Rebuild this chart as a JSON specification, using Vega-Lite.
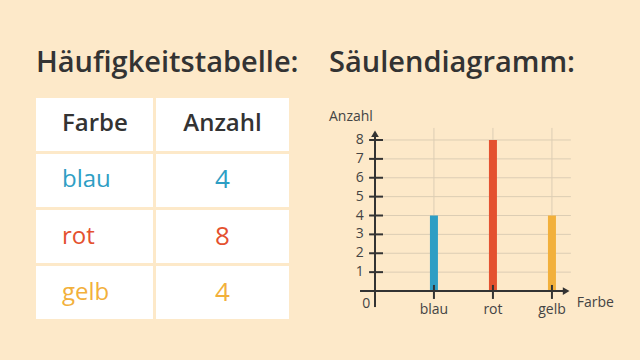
{
  "$schema": "https://vega.github.io/schema/vega-lite/v6.json",
  "autosize": {"type": "pad"},
  "padding": {"left": 36, "top": 49, "right": 24, "bottom": 41},
  "background": "#fde9c9",
  "config": {"view": {"stroke": null}, "font": "Open Sans"},
  "datasets": {
    "werte": [
      {"Farbe": "blau", "Anzahl": 4},
      {"Farbe": "rot", "Anzahl": 8},
      {"Farbe": "gelb", "Anzahl": 4}
    ],
    "stufen": [{"Stufe": 1}, {"Stufe": 2}, {"Stufe": 3}, {"Stufe": 4}, {"Stufe": 5}, {"Stufe": 6}, {"Stufe": 7}, {"Stufe": 8}],
    "leer": [{}]
  },
  "spacing": 30,
  "hconcat": [
    {
      "title": {"text": "Häufigkeitstabelle:", "anchor": "start", "fontSize": 29, "fontWeight": 600, "color": "#333333", "offset": 20, "frame": "group"},
      "spacing": 3,
      "hconcat": [
        {
          "width": 117,
          "height": 221,
          "layer": [
            {
              "data": {"name": "werte"},
              "mark": {"type": "rect", "color": "#ffffff"},
              "encoding": {"y": {"field": "Farbe", "type": "nominal", "scale": {"domain": ["Farbe", "blau", "rot", "gelb"], "paddingInner": 0.054, "paddingOuter": 0}, "axis": null}}
            },
            {
              "data": {"name": "leer"},
              "mark": {"type": "rect", "color": "#ffffff"},
              "encoding": {"y": {"datum": "Farbe", "type": "nominal"}}
            },
            {
              "data": {"name": "leer"},
              "mark": {"type": "text", "align": "left", "dx": 26, "fontSize": 24, "fontWeight": 600, "color": "#333333", "baseline": "middle"},
              "encoding": {"x": {"value": 0}, "y": {"datum": "Farbe", "type": "nominal"}, "text": {"value": "Farbe"}}
            },
            {
              "data": {"name": "werte"},
              "mark": {"type": "text", "align": "left", "dx": 26, "fontSize": 24, "baseline": "middle"},
              "encoding": {
                "x": {"value": 0},
                "y": {"field": "Farbe", "type": "nominal"},
                "text": {"field": "Farbe"},
                "color": {"field": "Farbe", "type": "nominal", "scale": {"domain": ["blau", "rot", "gelb"], "range": ["#2e9ec4", "#e4512f", "#f2b03b"]}, "legend": null}
              }
            }
          ]
        },
        {
          "width": 133,
          "height": 221,
          "layer": [
            {
              "data": {"name": "werte"},
              "mark": {"type": "rect", "color": "#ffffff"},
              "encoding": {"y": {"field": "Farbe", "type": "nominal", "scale": {"domain": ["Farbe", "blau", "rot", "gelb"], "paddingInner": 0.054, "paddingOuter": 0}, "axis": null}}
            },
            {
              "data": {"name": "leer"},
              "mark": {"type": "rect", "color": "#ffffff"},
              "encoding": {"y": {"datum": "Farbe", "type": "nominal"}}
            },
            {
              "data": {"name": "leer"},
              "mark": {"type": "text", "align": "center", "fontSize": 24, "fontWeight": 600, "color": "#333333", "baseline": "middle"},
              "encoding": {
                "x": {"datum": "Anzahl", "type": "nominal", "scale": {"type": "band", "paddingInner": 0, "paddingOuter": 0}, "axis": null},
                "y": {"datum": "Farbe", "type": "nominal"},
                "text": {"value": "Anzahl"}
              }
            },
            {
              "data": {"name": "werte"},
              "mark": {"type": "text", "align": "center", "fontSize": 26, "baseline": "middle"},
              "encoding": {
                "x": {"datum": "Anzahl", "type": "nominal"},
                "y": {"field": "Farbe", "type": "nominal"},
                "text": {"field": "Anzahl"},
                "color": {"field": "Farbe", "type": "nominal", "scale": {"domain": ["blau", "rot", "gelb"], "range": ["#2e9ec4", "#e4512f", "#f2b03b"]}, "legend": null}
              }
            }
          ]
        }
      ]
    },
    {
      "title": {"text": "Säulendiagramm:", "anchor": "start", "fontSize": 29, "fontWeight": 600, "color": "#333333", "offset": 20, "frame": "group"},
      "width": 288,
      "height": 221,
      "resolve": {"scale": {"x": "independent"}},
      "layer": [
        {
          "data": {"name": "stufen"},
          "mark": {"type": "rule", "color": "#dccdb4", "strokeWidth": 1},
          "encoding": {
            "x": {"datum": 0, "type": "quantitative", "scale": {"domain": [-0.7797, 4.1017], "nice": false, "zero": false}, "axis": null},
            "x2": {"datum": 3.32},
            "y": {"field": "Stufe", "type": "quantitative", "scale": {"domain": [-1.483, 10.225], "nice": false, "zero": false}, "axis": null}
          }
        },
        {
          "data": {"name": "werte"},
          "encoding": {
            "x": {"field": "Farbe", "type": "nominal", "scale": {"type": "band", "domain": ["blau", "rot", "gelb"], "paddingInner": 0.119, "paddingOuter": 1, "align": 0.669}, "axis": null}
          },
          "layer": [
            {
              "mark": {"type": "rule", "color": "#dccdb4", "strokeWidth": 1},
              "encoding": {"y": {"datum": 0, "type": "quantitative"}, "y2": {"datum": 8.64}}
            },
            {
              "mark": {"type": "bar", "size": 8},
              "encoding": {
                "y": {"field": "Anzahl", "type": "quantitative"},
                "y2": {"datum": 0},
                "color": {"field": "Farbe", "type": "nominal", "scale": {"domain": ["blau", "rot", "gelb"], "range": ["#2e9ec4", "#e4512f", "#f2b03b"]}, "legend": null}
              }
            },
            {
              "mark": {"type": "rule", "color": "#333333", "strokeWidth": 2},
              "encoding": {"y": {"datum": -0.42, "type": "quantitative"}, "y2": {"datum": 0.32}}
            },
            {
              "mark": {"type": "text", "fontSize": 14, "color": "#444444", "baseline": "alphabetic"},
              "encoding": {"y": {"datum": -1.22, "type": "quantitative"}, "text": {"field": "Farbe"}}
            }
          ]
        },
        {
          "encoding": {
            "x": {"type": "quantitative", "scale": {"domain": [-0.7797, 4.1017], "nice": false, "zero": false}, "axis": null}
          },
          "layer": [
            {
              "data": {"name": "leer"},
              "mark": {"type": "rule", "color": "#333333", "strokeWidth": 2},
              "encoding": {"x": {"datum": -0.254, "type": "quantitative"}, "x2": {"datum": 3.25}, "y": {"datum": 0, "type": "quantitative"}}
            },
            {
              "data": {"name": "leer"},
              "mark": {"type": "rule", "color": "#333333", "strokeWidth": 2},
              "encoding": {"x": {"datum": 0, "type": "quantitative"}, "y": {"datum": -0.85, "type": "quantitative"}, "y2": {"datum": 8.3}}
            },
            {
              "data": {"name": "leer"},
              "mark": {"type": "point", "shape": "triangle-right", "filled": true, "size": 60, "color": "#333333", "opacity": 1},
              "encoding": {"x": {"datum": 3.24, "type": "quantitative"}, "y": {"datum": 0, "type": "quantitative"}}
            },
            {
              "data": {"name": "leer"},
              "mark": {"type": "point", "shape": "triangle-up", "filled": true, "size": 60, "color": "#333333", "opacity": 1},
              "encoding": {"x": {"datum": 0, "type": "quantitative"}, "y": {"datum": 8.33, "type": "quantitative"}}
            },
            {
              "data": {"name": "stufen"},
              "mark": {"type": "rule", "color": "#333333", "strokeWidth": 2},
              "encoding": {"x": {"datum": -0.10, "type": "quantitative"}, "x2": {"datum": 0.136}, "y": {"field": "Stufe", "type": "quantitative"}}
            },
            {
              "data": {"name": "stufen"},
              "mark": {"type": "text", "fontSize": 14, "color": "#444444", "align": "right", "baseline": "middle"},
              "encoding": {"x": {"datum": -0.19, "type": "quantitative"}, "y": {"field": "Stufe", "type": "quantitative"}, "text": {"field": "Stufe"}}
            },
            {
              "data": {"name": "leer"},
              "mark": {"type": "text", "fontSize": 14, "color": "#444444", "align": "center", "baseline": "alphabetic"},
              "encoding": {"x": {"datum": -0.15, "type": "quantitative"}, "y": {"datum": -0.9, "type": "quantitative"}, "text": {"value": "0"}}
            },
            {
              "data": {"name": "leer"},
              "mark": {"type": "text", "fontSize": 14, "color": "#444444", "align": "left", "baseline": "alphabetic"},
              "encoding": {"x": {"datum": 3.42, "type": "quantitative"}, "y": {"datum": -0.85, "type": "quantitative"}, "text": {"value": "Farbe"}}
            },
            {
              "data": {"name": "leer"},
              "mark": {"type": "text", "fontSize": 14, "color": "#444444", "align": "left", "baseline": "alphabetic"},
              "encoding": {"x": {"datum": -0.7797, "type": "quantitative"}, "y": {"datum": 9.0, "type": "quantitative"}, "text": {"value": "Anzahl"}}
            }
          ]
        }
      ]
    }
  ]
}
